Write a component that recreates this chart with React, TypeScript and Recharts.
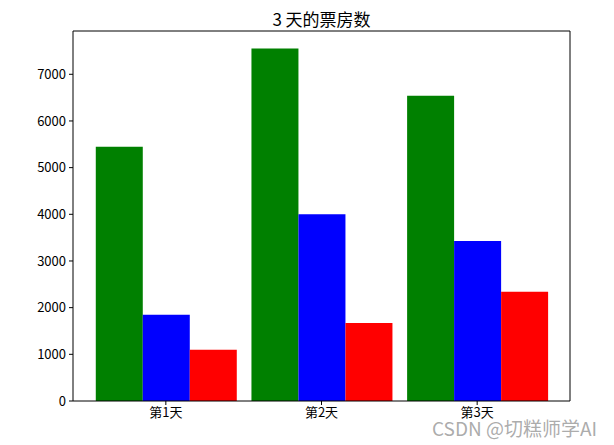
import React from 'react';
import { BarChart, Bar, XAxis, YAxis } from 'recharts';

const days = ['第1天', '第2天', '第3天'];
const greenValues = [5450, 7550, 6540];
const blueValues = [1850, 4000, 3430];
const redValues = [1100, 1670, 2340];
const yTicks = [0, 1000, 2000, 3000, 4000, 5000, 6000, 7000];
const title = '3 天的票房数';
const watermark = 'CSDN @切糕师学AI';

const data = days.map((d, i) => ({ day: d, g: greenValues[i], b: blueValues[i], r: redValues[i] }));
const yMax = Math.max(...greenValues, ...blueValues, ...redValues) * 1.05;

const FONT = '"Noto Sans CJK SC", "DejaVu Sans", sans-serif';

export default function App() {
  return (
    <div style={{ position: 'absolute', left: 0, top: 0, width: 614, height: 445, background: '#fff', fontFamily: FONT }}>
      <div style={{ position: 'absolute', left: 73, width: 497, top: 8, textAlign: 'center', fontSize: 17, lineHeight: '22px', color: '#000' }}>{title}</div>
      <BarChart
        width={614}
        height={445}
        data={data}
        margin={{ top: 30, right: 43, bottom: 0, left: 0 }}
        barCategoryGap="5%"
        barGap={0}
      >
        <XAxis
          dataKey="day"
          height={44}
          padding={{ left: 15, right: 15 }}
          axisLine={{ stroke: '#000', strokeWidth: 1 }}
          tickLine={{ stroke: '#000' }}
          tickSize={4}
          tickMargin={3}
          tick={{ fill: '#000', fontSize: 13, fontFamily: FONT }}
        />
        <XAxis
          xAxisId="t"
          dataKey="day"
          orientation="top"
          height={1}
          padding={{ left: 15, right: 15 }}
          axisLine={{ stroke: '#000', strokeWidth: 1 }}
          tick={false}
          tickLine={false}
        />
        <YAxis
          width={73}
          domain={[0, yMax]}
          ticks={yTicks}
          allowDataOverflow
          axisLine={{ stroke: '#000', strokeWidth: 1 }}
          tickLine={{ stroke: '#000' }}
          tickSize={4}
          tickMargin={3}
          tick={{ fill: '#000', fontSize: 13, fontFamily: FONT }}
        />
        <YAxis
          yAxisId="r"
          orientation="right"
          width={1}
          domain={[0, yMax]}
          axisLine={{ stroke: '#000', strokeWidth: 1 }}
          tick={false}
          tickLine={false}
        />
        <Bar dataKey="g" fill="#008000" isAnimationActive={false} />
        <Bar dataKey="b" fill="#0000ff" isAnimationActive={false} />
        <Bar dataKey="r" fill="#ff0000" isAnimationActive={false} />
      </BarChart>
      <div style={{ position: 'absolute', left: 432, top: 414, fontSize: 19, color: 'rgba(150,150,150,0.8)', whiteSpace: 'nowrap' }}>{watermark}</div>
    </div>
  );
}
